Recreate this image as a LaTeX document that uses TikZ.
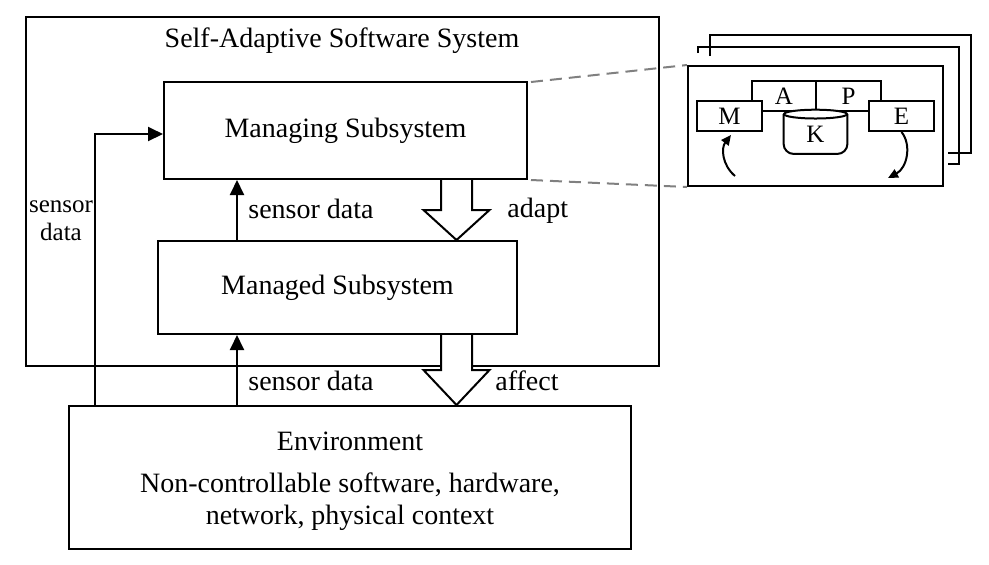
\documentclass[tikz,border=0pt]{standalone}
\usepackage{fontspec}
\setmainfont{Liberation Serif}
\usetikzlibrary{arrows.meta,calc,positioning}

% fat block arrow: #1 top of shaft, #2 tip, #3 head length
\newcommand{\fatarrow}[3]{%
  \draw[fatarr] ($(#1)+(-15.5,0)$) -- ($(#2)+(-15.5,-#3)$) -- ($(#2)+(-33,-#3)$)
    -- (#2) -- ($(#2)+(33,-#3)$) -- ($(#2)+(15.5,-#3)$) -- ($(#1)+(15.5,0)$);}

\tikzset{
  box/.style={draw, line width=1pt, inner sep=0pt},
  txt/.style={font=\fontsize{14}{16}\selectfont, inner sep=0pt},
  small/.style={font=\fontsize{12.5}{14}\selectfont, inner sep=0pt},
  fatarr/.style={draw, fill=white, line width=1pt, line join=miter},
  sensor/.style={line width=1pt, -{Triangle[length=7.5pt,width=7pt]}},
  loopy/.style={line width=1pt, -{Triangle[length=5pt,width=4.5pt]}},
  zoomline/.style={gray, line width=1pt, dash pattern=on 6pt off 3.5pt},
}

\begin{document}
\begin{tikzpicture}[x=0.5pt, y=-0.5pt]
  \useasboundingbox (0,0) rectangle (989,564);

  % Outer system
  \node (sys) [box, minimum width=316.5pt, minimum height=174.5pt] at (342.5,191.5) {};
  \node (sysLbl) [txt, anchor=base] at (342,47) {Self-Adaptive Software System};

  \node (mgr) [box, minimum width=181.5pt, minimum height=48.5pt] at (345.5,130.5)
    [txt] {Managing Subsystem};
  \node (mgd) [box, minimum width=179.5pt, minimum height=46.5pt] at (337.5,287.5)
    [txt] {Managed Subsystem};
  \node (env) [box, minimum width=281pt, minimum height=71.5pt] at (350,477.5) {};
  \node (envTxt) [txt, align=center] at (350,481)
    {Environment\\[5pt]Non-controllable software, hardware,\\network, physical context};

  % Sensor data arrows
  \draw[sensor] (237,0 |- mgd.north) -- (237,0 |- mgr.south);
  \draw[sensor] (237,0 |- env.north) -- (237,0 |- mgd.south);
  \draw[sensor] (95,0 |- env.north) |- (mgr.west |- 0,134);

  \node (sdUp) [txt, anchor=base west] at (248,218) {sensor data};
  \node (sdLow) [txt, anchor=base west] at (248,390) {sensor data};
  \node (sdLeft) [small, align=center] at (61,221) {sensor\\data};

  % Adapt / affect
  \coordinate (adaptTop) at (456.5,0 |- mgr.south);
  \coordinate (adaptTip) at (456.5,0 |- mgd.north);
  \coordinate (affectTop) at (456.5,0 |- mgd.south);
  \coordinate (affectTip) at (456.5,0 |- env.north);
  \fatarrow{adaptTop}{adaptTip}{30}
  \fatarrow{affectTop}{affectTip}{35}
  \node (adaptLbl) [txt, anchor=base west] at (507,217) {adapt};
  \node (affectLbl) [txt, anchor=base west] at (495,390) {affect};

  % MAPE-K stack
  \draw[line width=1pt] (710,56) -- (710,35) -- (971,35) -- (971,153) -- (948,153);
  \draw[line width=1pt] (698,53) -- (698,47) -- (959,47) -- (959,164) -- (948,164);
  \node (loop) [box, fill=white, minimum width=127.5pt, minimum height=60pt] at (815.5,126) {};

  \node (A) [box, minimum width=32pt, minimum height=15pt, small] at (784,96) {A};
  \node (P) [box, minimum width=32.5pt, minimum height=15pt, small] at (848.5,96) {P};
  \node (M) [box, fill=white, minimum width=32.5pt, minimum height=15pt, small] at (729.5,116) {M};
  \node (E) [box, fill=white, minimum width=32.5pt, minimum height=15pt, small] at (901.5,116) {E};

  \node (K) [fill=white, minimum width=31.5pt, minimum height=19.5pt, small] at (815.5,134) {K};
  \draw[line width=1pt, rounded corners=5pt] (K.north west) -- (K.south west) -- (K.south east) -- (K.north east);
  \draw[line width=1pt, fill=white] (K.north) ellipse (15.75pt and 2.2pt);

  \coordinate (mFrom) at (735,176);
  \coordinate (mTo) at (731,135);
  \coordinate (eTo) at (888,178);
  \draw[loopy] (mFrom) .. controls (722,165) and (721,148) .. (mTo);
  \draw[loopy] (E.south) .. controls (912,145) and (907,168) .. (eTo);

  % Zoom lines
  \draw[zoomline] (mgr.north east) ++(3,1) -- (loop.north west);
  \draw[zoomline] (mgr.south east) ++(3,0) -- (loop.south west);
\end{tikzpicture}
\end{document}
